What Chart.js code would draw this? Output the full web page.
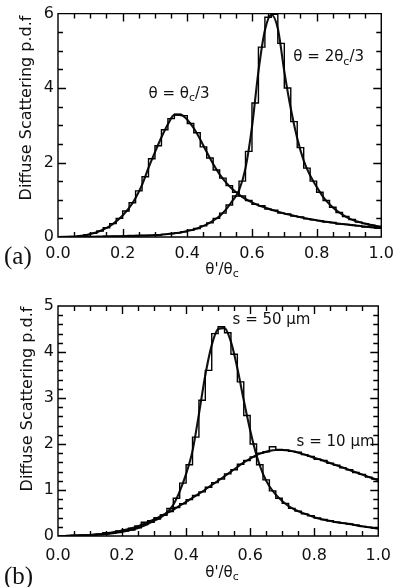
<!DOCTYPE html>
<html>
<head>
<meta charset="utf-8">
<script src="https://cdn.jsdelivr.net/npm/chart.js@4"></script>
<style>
  body { margin: 0; background: #fff; width: 401px; height: 587px; overflow: hidden; }
  canvas { position: absolute; left: 0; }
</style>
</head>
<body>
<canvas id="chartA" width="401" height="290" style="top:0"></canvas>
<canvas id="chartB" width="401" height="297" style="top:290px"></canvas>
<script>
// bin edges of the histograms (theta'/theta_c), also the sample points of the fitted curves
const binEdges = [0.00, 0.02, 0.04, 0.06, 0.08, 0.10, 0.12, 0.14, 0.16, 0.18,
  0.20, 0.22, 0.24, 0.26, 0.28, 0.30, 0.32, 0.34, 0.36, 0.38,
  0.40, 0.42, 0.44, 0.46, 0.48, 0.50, 0.52, 0.54, 0.56, 0.58,
  0.60, 0.62, 0.64, 0.66, 0.68, 0.70, 0.72, 0.74, 0.76, 0.78,
  0.80, 0.82, 0.84, 0.86, 0.88, 0.90, 0.92, 0.94, 0.96, 0.98, 1.00];

// panel (a): theta = theta_c/3
const histA1 = [0.00, 0.01, 0.01, 0.03, 0.06, 0.10, 0.16, 0.25, 0.36, 0.50,
  0.70, 0.92, 1.24, 1.62, 2.10, 2.45, 2.88, 3.18, 3.30, 3.26,
  3.05, 2.80, 2.42, 2.12, 1.80, 1.58, 1.38, 1.20, 1.10, 0.98,
  0.88, 0.84, 0.75, 0.72, 0.64, 0.62, 0.56, 0.54, 0.49, 0.46,
  0.44, 0.40, 0.39, 0.35, 0.34, 0.32, 0.30, 0.27, 0.27, 0.24];
const curveA1 = [0.00, 0.005, 0.01, 0.02, 0.04, 0.08, 0.13, 0.20, 0.29, 0.42,
  0.58, 0.78, 1.05, 1.40, 1.86, 2.28, 2.68, 3.03, 3.28, 3.28,
  3.15, 2.92, 2.62, 2.28, 1.96, 1.68, 1.46, 1.28, 1.14, 1.02,
  0.93, 0.85, 0.79, 0.73, 0.68, 0.63, 0.59, 0.55, 0.51, 0.48,
  0.45, 0.42, 0.40, 0.37, 0.35, 0.33, 0.31, 0.29, 0.27, 0.25, 0.24];

// panel (a): theta = 2 theta_c/3
const histA2 = [0.00, 0.00, 0.00, 0.00, 0.01, 0.01, 0.01, 0.02, 0.02, 0.02,
  0.03, 0.03, 0.04, 0.04, 0.05, 0.05, 0.07, 0.09, 0.11, 0.14,
  0.18, 0.23, 0.30, 0.38, 0.50, 0.64, 0.86, 1.10, 1.50, 2.30,
  3.60, 5.10, 5.90, 5.98, 5.20, 4.00, 3.10, 2.40, 1.85, 1.50,
  1.20, 0.98, 0.80, 0.66, 0.55, 0.47, 0.40, 0.36, 0.32, 0.28];
const curveA2 = [0.00, 0.00, 0.00, 0.00, 0.00, 0.005, 0.01, 0.01, 0.015, 0.02,
  0.02, 0.03, 0.03, 0.04, 0.04, 0.05, 0.06, 0.08, 0.10, 0.12,
  0.16, 0.20, 0.26, 0.34, 0.44, 0.56, 0.74, 0.98, 1.25, 1.85,
  2.95, 4.45, 5.55, 5.97, 5.60, 4.45, 3.45, 2.65, 2.05, 1.65,
  1.35, 1.08, 0.88, 0.72, 0.60, 0.50, 0.43, 0.38, 0.34, 0.30, 0.27];

// panel (b): s = 50 um
const histB50 = [0.00, 0.00, 0.01, 0.01, 0.02, 0.02, 0.03, 0.05, 0.06, 0.08,
  0.11, 0.13, 0.18, 0.25, 0.30, 0.37, 0.45, 0.60, 0.82, 1.15,
  1.55, 2.15, 2.95, 3.60, 4.40, 4.55, 4.42, 3.95, 3.35, 2.62,
  2.00, 1.55, 1.22, 0.98, 0.82, 0.71, 0.60, 0.54, 0.48, 0.44,
  0.39, 0.36, 0.33, 0.30, 0.28, 0.26, 0.24, 0.21, 0.19, 0.17];
const curveB50 = [0.00, 0.00, 0.005, 0.01, 0.015, 0.02, 0.03, 0.04, 0.05, 0.07,
  0.09, 0.12, 0.15, 0.20, 0.26, 0.33, 0.40, 0.51, 0.68, 0.97,
  1.35, 1.85, 2.65, 3.50, 4.15, 4.50, 4.52, 4.22, 3.65, 2.95,
  2.30, 1.75, 1.35, 1.08, 0.90, 0.76, 0.65, 0.57, 0.51, 0.46,
  0.41, 0.37, 0.34, 0.31, 0.29, 0.27, 0.25, 0.22, 0.20, 0.18, 0.16];

// panel (b): s = 10 um
const histB10 = [0.00, 0.00, 0.01, 0.01, 0.02, 0.03, 0.04, 0.07, 0.07, 0.11,
  0.13, 0.17, 0.22, 0.30, 0.33, 0.40, 0.46, 0.53, 0.62, 0.70,
  0.79, 0.88, 0.96, 1.06, 1.16, 1.24, 1.35, 1.44, 1.56, 1.64,
  1.72, 1.80, 1.83, 1.94, 1.88, 1.87, 1.84, 1.82, 1.77, 1.73,
  1.67, 1.64, 1.58, 1.54, 1.48, 1.44, 1.38, 1.34, 1.28, 1.24];
const curveB10 = [0.00, 0.00, 0.005, 0.01, 0.015, 0.02, 0.035, 0.05, 0.07, 0.09,
  0.12, 0.15, 0.19, 0.24, 0.30, 0.36, 0.43, 0.50, 0.57, 0.66,
  0.74, 0.83, 0.92, 1.01, 1.11, 1.20, 1.30, 1.40, 1.50, 1.60,
  1.68, 1.76, 1.81, 1.85, 1.87, 1.87, 1.86, 1.83, 1.79, 1.75,
  1.70, 1.66, 1.61, 1.56, 1.51, 1.46, 1.41, 1.36, 1.31, 1.26, 1.21];

const INK = '#111';
const SANS = '"DejaVu Sans", sans-serif';

function histPoints(values) {
  const pts = values.map((v, i) => ({ x: binEdges[i], y: v }));
  pts.push({ x: binEdges[values.length], y: values[values.length - 1] });
  return pts;
}

function curvePoints(values) {
  return values.map((v, i) => ({ x: binEdges[i], y: v }));
}

// text with subscript pieces: parts = [[text, isSub], ...]
function drawRich(ctx, parts, x, y, size, align) {
  const subSize = Math.round(size * 0.72);
  let w = 0;
  parts.forEach(p => {
    ctx.font = (p[1] ? subSize : size) + 'px ' + SANS;
    w += ctx.measureText(p[0]).width;
  });
  let cx = align === 'center' ? x - w / 2 : x;
  ctx.textAlign = 'left';
  ctx.textBaseline = 'middle';
  parts.forEach(p => {
    ctx.font = (p[1] ? subSize : size) + 'px ' + SANS;
    ctx.fillText(p[0], cx, p[1] ? y + size * 0.3 : y);
    cx += ctx.measureText(p[0]).width;
  });
}

// box round the plot and inward ticks on all four sides, one path
function frameTicks(t) {
  return {
    id: 'frameTicks',
    afterDraw(chart) {
      const ctx = chart.ctx;
      const a = chart.chartArea;
      const sx = chart.scales.x;
      const sy = chart.scales.y;
      const marks = [];
      for (let i = 1; i < t.xCount; i++) {
        marks.push(['x', sx.getPixelForValue(i * t.xMinor), i % t.xEvery === 0 ? 8 : 5]);
      }
      for (let i = 1; i < t.yCount; i++) {
        marks.push(['y', sy.getPixelForValue(i * t.yMinor), i % t.yEvery === 0 ? 8 : 5]);
      }
      ctx.save();
      ctx.strokeStyle = '#000';
      ctx.lineWidth = 1.4;
      ctx.beginPath();
      ctx.rect(a.left, a.top, a.right - a.left, a.bottom - a.top);
      marks.forEach(m => {
        const p = Math.round(m[1]) + 0.5;
        if (m[0] === 'x') {
          ctx.moveTo(p, a.bottom);
          ctx.lineTo(p, a.bottom - m[2]);
          ctx.moveTo(p, a.top);
          ctx.lineTo(p, a.top + m[2]);
        } else {
          ctx.moveTo(a.left, p);
          ctx.lineTo(a.left + m[2], p);
          ctx.moveTo(a.right, p);
          ctx.lineTo(a.right - m[2], p);
        }
      });
      ctx.stroke();
      ctx.restore();
    }
  };
}

// curve labels, axis titles and the panel letter
function notes(n) {
  return {
    id: 'notes',
    afterDraw(chart) {
      const ctx = chart.ctx;
      const x = chart.scales.x;
      const y = chart.scales.y;
      ctx.save();
      ctx.fillStyle = INK;
      n.labels.forEach(l => {
        drawRich(ctx, l.parts, x.getPixelForValue(l.x), y.getPixelForValue(l.y), 15, 'left');
      });
      drawRich(ctx, [["θ'/θ"], ['c', true]], n.xTitle[0], n.xTitle[1], 15, 'center');

      ctx.save();
      ctx.translate(n.yTitle[0], n.yTitle[1]);
      ctx.rotate(-Math.PI / 2);
      ctx.font = '16px ' + SANS;
      ctx.textAlign = 'center';
      ctx.textBaseline = 'middle';
      ctx.fillText('Diffuse Scattering p.d.f', 0, 0);
      ctx.restore();

      ctx.font = '25px "Liberation Serif", serif';
      ctx.textAlign = 'left';
      ctx.textBaseline = 'middle';
      ctx.fillText(n.letter, n.letterPos[0], n.letterPos[1]);
      ctx.restore();
    }
  };
}

function makeChart(id, cfg) {
  const ds = [];
  cfg.series.forEach(s => {
    ds.push({
      data: histPoints(s.hist),
      stepped: true,
      borderColor: '#000',
      borderWidth: 1.4,
      pointRadius: 0,
      fill: false
    });
    ds.push({
      data: curvePoints(s.curve),
      cubicInterpolationMode: 'monotone',
      borderColor: INK,
      borderWidth: 2.1,
      pointRadius: 0,
      fill: false
    });
  });

  return new Chart(document.getElementById(id), {
    type: 'line',
    data: { datasets: ds },
    plugins: [frameTicks(cfg.ticks), notes(cfg.notes)],
    options: {
      responsive: false,
      animation: false,
      events: [],
      layout: { padding: { top: cfg.top, right: 15, left: 0, bottom: 0 }, autoPadding: false },
      plugins: {
        legend: { display: false },
        tooltip: { enabled: false }
      },
      scales: {
        x: {
          type: 'linear',
          min: 0,
          max: 1,
          grid: { display: false, drawTicks: false },
          border: { display: false },
          ticks: {
            stepSize: 0.2,
            padding: cfg.xPad,
            color: INK,
            font: { family: SANS, size: 16 },
            callback: v => v.toFixed(1)
          },
          afterFit: s => { s.height = cfg.xHeight; }
        },
        y: {
          type: 'linear',
          min: 0,
          max: cfg.yMax,
          grid: { display: false, drawTicks: false },
          border: { display: false },
          ticks: {
            stepSize: cfg.yStep,
            padding: 4,
            color: INK,
            font: { family: SANS, size: 16 },
            callback: v => String(Math.round(v))
          },
          afterFit: s => { s.width = 58; }
        }
      }
    }
  });
}

makeChart('chartA', {
  series: [{ hist: histA1, curve: curveA1 }, { hist: histA2, curve: curveA2 }],
  yMax: 6,
  yStep: 2,
  top: 4,
  xHeight: 53,
  xPad: 7,
  ticks: { xMinor: 0.05, xCount: 20, xEvery: 4, yMinor: 0.5, yCount: 12, yEvery: 4 },
  notes: {
    labels: [
      { parts: [['θ = θ'], ['c', true], ['/3']], x: 0.28, y: 3.84 },
      { parts: [['θ = 2θ'], ['c', true], ['/3']], x: 0.728, y: 4.83 }
    ],
    xTitle: [222, 270],
    yTitle: [27, 108],
    letter: '(a)',
    letterPos: [4, 257]
  }
});

makeChart('chartB', {
  series: [{ hist: histB50, curve: curveB50 }, { hist: histB10, curve: curveB10 }],
  yMax: 5,
  yStep: 1,
  top: 16,
  xHeight: 51,
  xPad: 10,
  ticks: { xMinor: 0.05, xCount: 20, xEvery: 4, yMinor: 0.2, yCount: 25, yEvery: 5 },
  notes: {
    labels: [
      { parts: [['s = 50 μm']], x: 0.545, y: 4.7 },
      { parts: [['s = 10 μm']], x: 0.745, y: 2.05 }
    ],
    xTitle: [222, 283],
    yTitle: [28, 109],
    letter: '(b)',
    letterPos: [4, 287]
  }
});
</script>
</body>
</html>
